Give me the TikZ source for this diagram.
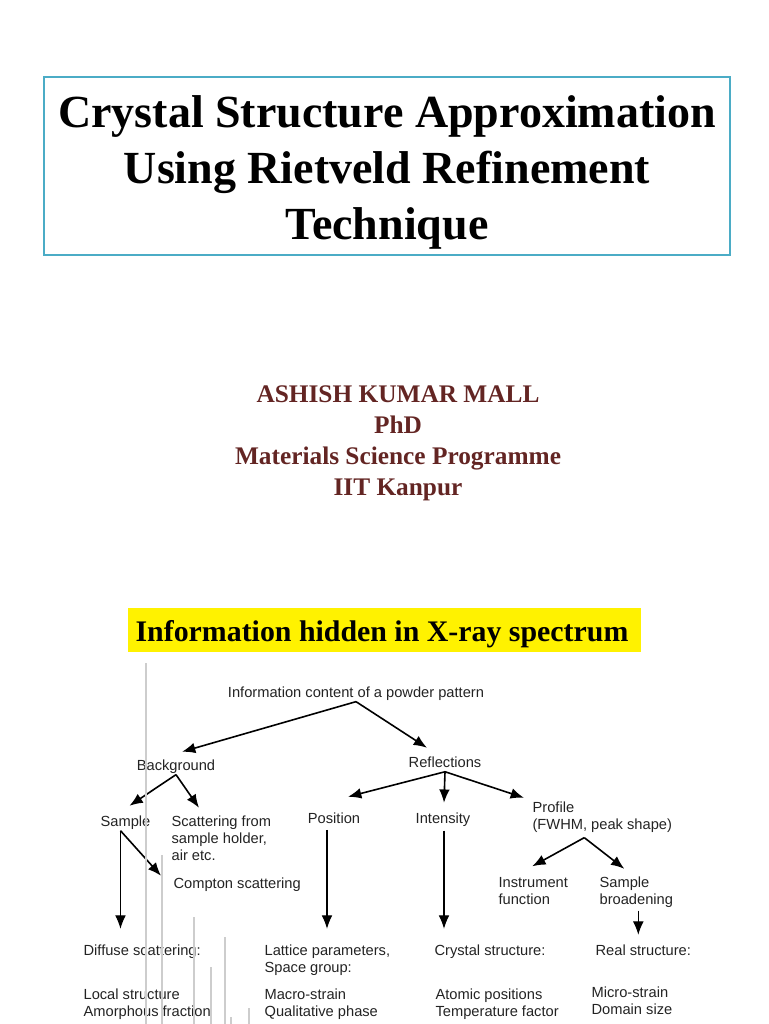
\documentclass[tikz,border=0pt]{standalone}
\usepackage{fontspec}
\setmainfont{Liberation Serif}
\setsansfont{Liberation Sans}
\usetikzlibrary{arrows.meta,positioning,calc}
\definecolor{frameblue}{RGB}{75,172,198}
\definecolor{authred}{RGB}{99,37,35}
\definecolor{txtgray}{RGB}{35,35,35}
\definecolor{specgray}{RGB}{205,205,205}

\begin{document}
\begin{tikzpicture}[x=0.75pt,y=-0.75pt,>={Latex[length=10pt,width=8pt]},
  ttl/.style={align=center,font=\fontsize{34.5}{42}\selectfont\bfseries,inner sep=0pt},
  auth/.style={align=center,text=authred,font=\fontsize{19}{23.25}\selectfont\bfseries,inner sep=0pt},
  lbl/.style={align=left,text=txtgray,font=\sffamily\fontsize{11}{12.75}\selectfont,inner sep=1pt},
  arr/.style={->,line width=1.2pt},
  varr/.style={->,line width=0.8pt},
  spec/.style={specgray,line width=1.1pt}]
\useasboundingbox (0,0) rectangle (768,1024);
% title block
\draw[frameblue,line width=1.2pt] (44,77) rectangle (730,255);
\node (title) [ttl,anchor=base] at (387,239) {Crystal Structure Approximation\\Using Rietveld Refinement\\Technique};
\node (author) [auth,anchor=base] at (398,495) {ASHISH KUMAR MALL\\PhD\\Materials Science Programme\\IIT Kanpur};
\fill[yellow] (128,608) rectangle (641,652);
\node (hidden) [font=\fontsize{22.4}{26}\selectfont\bfseries,anchor=base,inner sep=0pt] at (382,641) {Information hidden in X-ray spectrum};
% tree
\node (info) [lbl,anchor=base] at (356,697) {Information content of a powder pattern};
\node (bg) [lbl,anchor=base] at (176,770) {Background};
\node (refl) [lbl,anchor=base] at (445,767) {Reflections};
\node (smp) [lbl,anchor=base west] at (99,826) {Sample};
\node (holder) [lbl,anchor=base west] at (170,860) {Scattering from\\sample holder,\\air etc.};
\node (compton) [lbl,anchor=base west] at (172,888) {Compton scattering};
\node (pos) [lbl,anchor=base] at (334,823) {Position};
\node (int) [lbl,anchor=base] at (443,823) {Intensity};
\node (prof) [lbl,anchor=base west] at (531,829) {Profile\\(FWHM, peak shape)};
\node (instr) [lbl,anchor=base west] at (497,904) {Instrument\\function};
\node (broad) [lbl,anchor=base west] at (598,904) {Sample\\broadening};
\node (diff) [lbl,anchor=base west] at (82,955) {Diffuse scattering:};
\node (latt) [lbl,anchor=base west] at (263,972) {Lattice parameters,\\Space group:};
\node (cryst) [lbl,anchor=base west] at (433,955) {Crystal structure:};
\node (real) [lbl,anchor=base west] at (594,955) {Real structure:};
\node (local) [lbl,anchor=base west] at (82,1016) {Local structure\\Amorphous fraction};
\node (macro) [lbl,anchor=base west] at (263,1016) {Macro-strain\\Qualitative phase};
\node (atomic) [lbl,anchor=base west] at (434,1016) {Atomic positions\\Temperature factor};
\node (micro) [lbl,anchor=base west] at (590,1014) {Micro-strain\\Domain size};
% foot points of the arrows
\coordinate (smpfoot) at ($(smp.south)+(-5,0)$);
\coordinate (reflfoot) at ($(refl.south)+(0,3)$);
\coordinate (posfoot) at ($(pos.south)+(-7,5)$);
\coordinate (intfoot) at ($(int.south)+(1,3)$);
\coordinate (proffoot) at ($(prof.south)+(-18,4)$);
\coordinate (broadfoot) at ($(broad.south)+(2,2)$);
\draw[arr] (info.south) -- ($(bg.north)+(6,-6)$);
\draw[arr] (info.south) -- ($(refl.north)+(-18,-7)$);
\draw[arr] (bg.south) -- ($(smp.north)+(4,-8)$);
\draw[arr] (bg.south) -- ($(holder.north west)+(29,-6)$);
\draw[varr] (smpfoot) -- ($(smpfoot |- diff.north)+(0,-14)$);
\draw[arr] (smpfoot) -- ($(compton.north west)+(-11,0)$);
\draw[arr] (reflfoot) -- ($(pos.north)+(14,-14)$);
\draw[arr] (reflfoot) -- ($(int.north)+(1,-8)$);
\draw[arr] (reflfoot) -- ($(prof.north west)+(-7,-2)$);
\draw[varr] (posfoot) -- ($(posfoot |- latt.north)+(0,-14)$);
\draw[varr] (intfoot) -- ($(intfoot |- cryst.north)+(0,-14)$);
\draw[arr] (proffoot) -- ($(instr.north)+(-1,-9)$);
\draw[arr] (proffoot) -- ($(broad.north)+(-12,-6)$);
\draw[varr] (broadfoot) -- ($(broadfoot |- real.north)+(0,-8)$);
% spectrum lines
\foreach \x/\y in {146/663,162/855,194/917,225/937,211/967,249/1008,231/1017}
  \draw[spec] (\x,\y) -- (\x,1024);
\end{tikzpicture}
\end{document}
